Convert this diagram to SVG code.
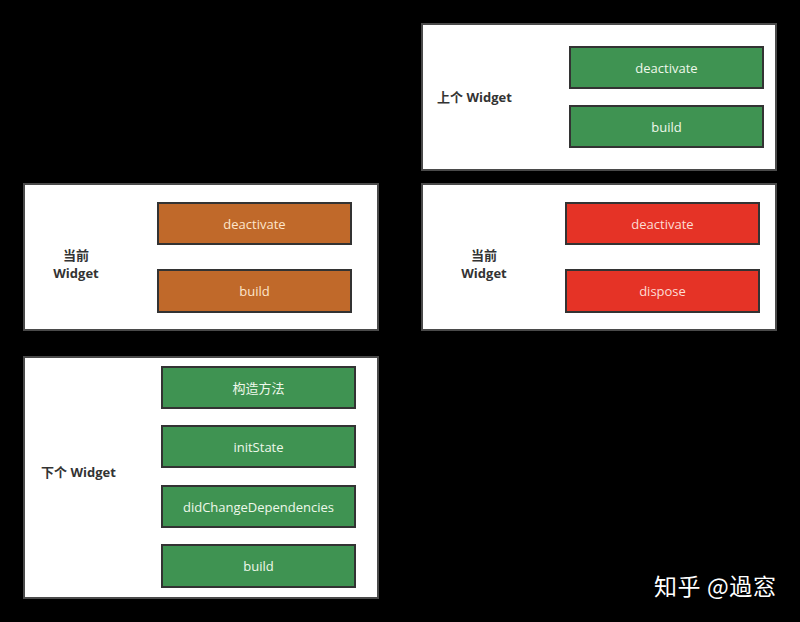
<svg xmlns="http://www.w3.org/2000/svg" width="800" height="622" viewBox="0 0 800 622">
<style>
.panel{fill:#ffffff;stroke:#4a4a4a;stroke-width:2}
.box{stroke:#333;stroke-width:2}
.g{fill:#3f9352}
.o{fill:#c0692a}
.r{fill:#e53326}
.bt{font-family:"Open Sans","Noto Sans CJK SC",sans-serif;font-size:13px;text-anchor:middle;dominant-baseline:central}
.gt{fill:#eef8ea}
.ot{fill:#fde6cc}
.rt{fill:#fddcd4}
.lbl{font-family:"Open Sans","Noto Sans CJK SC",sans-serif;font-size:13px;font-weight:bold;fill:#333}
.wm{font-family:"Noto Sans CJK SC",sans-serif;font-size:23px;fill:#ffffff;letter-spacing:0.6px}
</style>
<rect width="800" height="622" fill="#000"/>
<g id="prev-widget">
<rect class="panel" x="422" y="24" width="354" height="146"/>
<text class="lbl" x="437" y="102">上个 Widget</text>
<rect class="box g" x="570" y="47" width="193" height="41"/>
<text class="bt gt" x="666.5" y="67.5">deactivate</text>
<rect class="box g" x="570" y="106" width="193" height="41"/>
<text class="bt gt" x="666.5" y="126.5">build</text>
</g>
<g id="current-widget-left">
<rect class="panel" x="24" y="184" width="354" height="146"/>
<text class="lbl" x="76" y="260" text-anchor="middle">当前</text>
<text class="lbl" x="76" y="278" text-anchor="middle">Widget</text>
<rect class="box o" x="158" y="203" width="193" height="41"/>
<text class="bt ot" x="254.5" y="223.5">deactivate</text>
<rect class="box o" x="158" y="270" width="193" height="42"/>
<text class="bt ot" x="254.5" y="291">build</text>
</g>
<g id="current-widget-right">
<rect class="panel" x="422" y="184" width="354" height="146"/>
<text class="lbl" x="484" y="260" text-anchor="middle">当前</text>
<text class="lbl" x="484" y="278" text-anchor="middle">Widget</text>
<rect class="box r" x="566" y="203" width="193" height="41"/>
<text class="bt rt" x="662.5" y="223.5">deactivate</text>
<rect class="box r" x="566" y="270" width="193" height="42"/>
<text class="bt rt" x="662.5" y="291">dispose</text>
</g>
<g id="next-widget">
<rect class="panel" x="24" y="357" width="354" height="241"/>
<text class="lbl" x="41" y="477">下个 Widget</text>
<rect class="box g" x="162" y="367" width="193" height="41"/>
<text class="bt gt" x="258.5" y="387.5">构造方法</text>
<rect class="box g" x="162" y="426" width="193" height="41"/>
<text class="bt gt" x="258.5" y="446.5">initState</text>
<rect class="box g" x="162" y="486" width="193" height="41"/>
<text class="bt gt" x="258.5" y="506.5">didChangeDependencies</text>
<rect class="box g" x="162" y="545" width="193" height="42"/>
<text class="bt gt" x="258.5" y="566">build</text>
</g>
<g id="connectors"></g>
<text class="wm" x="654" y="595">知乎 @過窓</text>
</svg>
